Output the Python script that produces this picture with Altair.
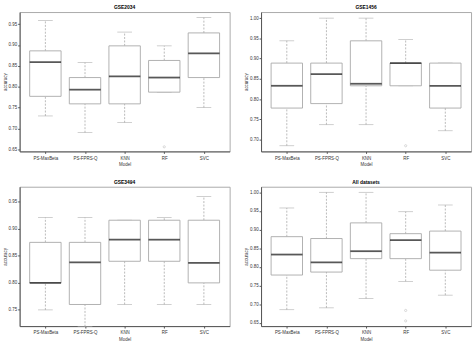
import altair as alt
import pandas as pd

models = ["PS-MaxBeta", "PS-FPRS-Q", "KNN", "RF", "SVC"]

titles = ["GSE2034", "GSE1456", "GSE3494", "All datasets"]

# per panel five-number summaries (one value per model)
p1_lower = [0.730, 0.690, 0.714, 0.787, 0.750]
p1_q1 = [0.777, 0.759, 0.759, 0.787, 0.822]
p1_med = [0.859, 0.793, 0.825, 0.822, 0.880]
p1_q3 = [0.886, 0.822, 0.898, 0.863, 0.929]
p1_upper = [0.959, 0.858, 0.931, 0.898, 0.966]
p1_out_model = ["RF"]
p1_out_val = [0.656]

p2_lower = [0.685, 0.737, 0.737, 0.833, 0.722]
p2_q1 = [0.778, 0.789, 0.833, 0.833, 0.778]
p2_med = [0.833, 0.862, 0.838, 0.889, 0.833]
p2_q3 = [0.889, 0.889, 0.944, 0.889, 0.889]
p2_upper = [0.944, 1.000, 1.000, 0.947, 0.889]
p2_out_model = ["RF"]
p2_out_val = [0.685]

p3_lower = [0.750, 0.719, 0.760, 0.760, 0.760]
p3_q1 = [0.800, 0.760, 0.840, 0.840, 0.800]
p3_med = [0.800, 0.838, 0.880, 0.880, 0.837]
p3_q3 = [0.875, 0.875, 0.916, 0.916, 0.916]
p3_upper = [0.921, 0.921, 0.916, 0.921, 0.960]
p3_out_model = []
p3_out_val = []

p4_lower = [0.685, 0.690, 0.715, 0.761, 0.724]
p4_q1 = [0.778, 0.786, 0.822, 0.822, 0.791]
p4_med = [0.833, 0.812, 0.842, 0.872, 0.838]
p4_q3 = [0.881, 0.876, 0.918, 0.889, 0.896]
p4_upper = [0.958, 1.000, 1.000, 0.948, 0.966]
p4_out_model = ["RF", "RF"]
p4_out_val = [0.683, 0.655]

domains = [[0.645, 0.979], [0.671, 1.015], [0.720, 0.978], [0.641, 1.015]]
tick_vals = [
    [0.65, 0.70, 0.75, 0.80, 0.85, 0.90, 0.95],
    [0.70, 0.75, 0.80, 0.85, 0.90, 0.95, 1.00],
    [0.75, 0.80, 0.85, 0.90, 0.95],
    [0.65, 0.70, 0.75, 0.80, 0.85, 0.90, 0.95, 1.00],
]

GREY = "#a8a8a8"
W, H = 214, 142


def panel(title, lower, q1, med, q3, upper, out_m, out_v, dom, ticks):
    df = pd.DataFrame({"Model": models, "lower": lower, "q1": q1,
                       "med": med, "q3": q3, "upper": upper})
    xenc = alt.X("Model:N", sort=models,
                 scale=alt.Scale(type="point", padding=0.65),
                 axis=alt.Axis(title="Model", labelAngle=0, tickSize=2,
                               domainColor="#555", tickColor="#555",
                               labelPadding=2, titlePadding=2))
    yscale = alt.Scale(domain=dom, nice=False, zero=False)
    yaxis = alt.Axis(title="accuracy", values=ticks, format=".2f", tickSize=2,
                     domainColor="#555", tickColor="#555", labelPadding=1,
                     titlePadding=1, grid=False)
    base = alt.Chart(df)
    wh_up = base.mark_rule(color=GREY, strokeDash=[2, 1.5], strokeWidth=0.8).encode(
        x=xenc, y=alt.Y("q3:Q", scale=yscale, axis=yaxis), y2="upper:Q")
    wh_lo = base.mark_rule(color=GREY, strokeDash=[2, 1.5], strokeWidth=0.8).encode(
        x=xenc, y=alt.Y("lower:Q", scale=yscale, axis=yaxis), y2="q1:Q")
    cap_up = base.mark_tick(color=GREY, size=15, thickness=0.8).encode(
        x=xenc, y=alt.Y("upper:Q", scale=yscale, axis=yaxis))
    cap_lo = base.mark_tick(color=GREY, size=15, thickness=0.8).encode(
        x=xenc, y=alt.Y("lower:Q", scale=yscale, axis=yaxis))
    box = base.mark_bar(size=32, fill="white", stroke=GREY, strokeWidth=0.9).encode(
        x=xenc, y=alt.Y("q1:Q", scale=yscale, axis=yaxis), y2="q3:Q")
    medn = base.mark_tick(color="#111", size=32, thickness=1.8).encode(
        x=xenc, y=alt.Y("med:Q", scale=yscale, axis=yaxis))
    layers = [wh_up, wh_lo, cap_up, cap_lo, box, medn]
    if out_m:
        odf = pd.DataFrame({"Model": out_m, "val": out_v})
        pts = alt.Chart(odf).mark_point(shape="circle", size=5, color=GREY,
                                        strokeWidth=0.6).encode(
            x=xenc, y=alt.Y("val:Q", scale=yscale, axis=yaxis))
        layers.append(pts)
    return alt.layer(*layers).properties(
        width=W, height=H,
        title=alt.TitleParams(title, fontSize=5, fontWeight="bold", offset=2))


c1 = panel(titles[0], p1_lower, p1_q1, p1_med, p1_q3, p1_upper, p1_out_model, p1_out_val, domains[0], tick_vals[0])
c2 = panel(titles[1], p2_lower, p2_q1, p2_med, p2_q3, p2_upper, p2_out_model, p2_out_val, domains[1], tick_vals[1])
c3 = panel(titles[2], p3_lower, p3_q1, p3_med, p3_q3, p3_upper, p3_out_model, p3_out_val, domains[2], tick_vals[2])
c4 = panel(titles[3], p4_lower, p4_q1, p4_med, p4_q3, p4_upper, p4_out_model, p4_out_val, domains[3], tick_vals[3])

chart = alt.vconcat(
    alt.hconcat(c1, c2, spacing=12),
    alt.hconcat(c3, c4, spacing=12),
    spacing=12,
).properties(padding={"left": 1, "top": 1, "right": 2, "bottom": 1}).configure(
    font="Liberation Sans"
).configure_axis(
    labelFontSize=4.5, titleFontSize=4.5, labelColor="#333", titleColor="#333",
    titleFontWeight="normal"
).configure_view(stroke="#aaaaaa", strokeWidth=1)

chart.save("out.html", embed_options={"renderer": "svg", "actions": False})
